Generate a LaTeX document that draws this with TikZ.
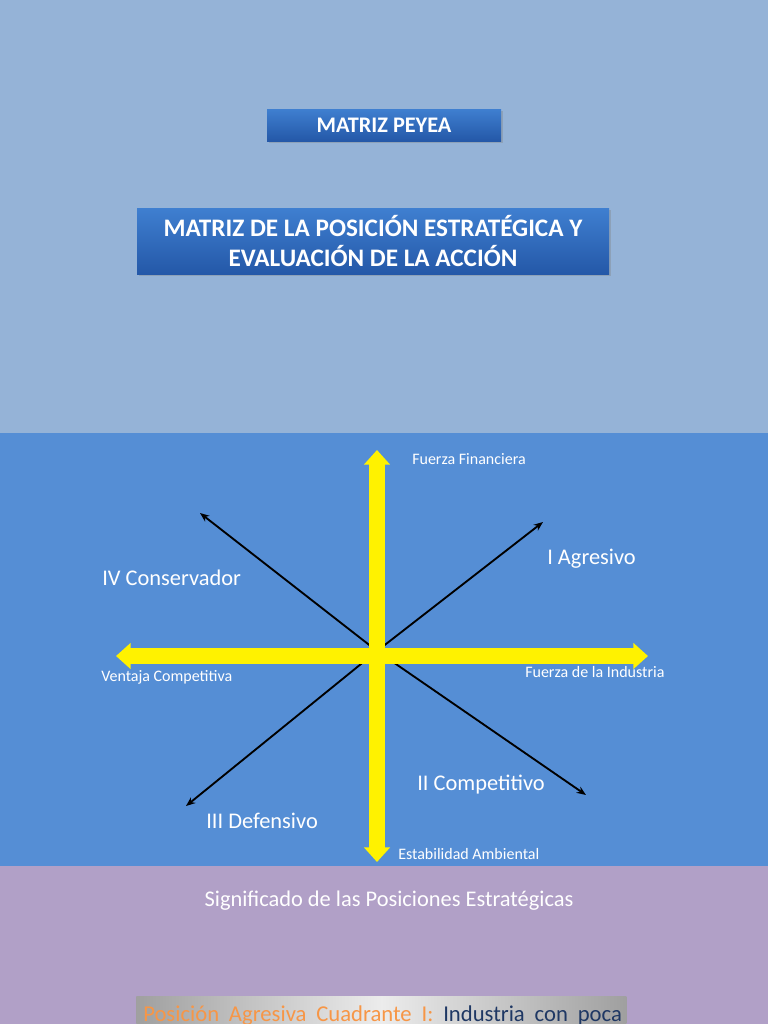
\documentclass[tikz,border=0pt]{standalone}
\usepackage{fontspec}
\setmainfont{Carlito}
\usetikzlibrary{positioning,arrows.meta,shadows}

\definecolor{skytop}{HTML}{95B3D7}
\definecolor{midblue}{HTML}{558ED5}
\definecolor{lilac}{HTML}{B1A0C7}
\definecolor{boxlight}{HTML}{3F7FD0}
\definecolor{boxdark}{HTML}{2458A8}
\definecolor{agrorange}{HTML}{F79646}
\definecolor{navytext}{HTML}{1F3864}

\begin{document}
\begin{tikzpicture}[x=0.75pt, y=-0.75pt]

% Styles
\tikzset{
    titlebox/.style={rectangle, top color=boxlight, bottom color=boxdark, draw=none,
        text=white, font=\bfseries, align=center,
        drop shadow={opacity=0.35, shadow xshift=1.5pt, shadow yshift=-1.5pt}},
    axislabel/.style={text=white, font=\fontsize{12}{14}\selectfont, inner sep=0pt, anchor=west},
    quadlabel/.style={text=white, font=\fontsize{16.8}{20}\selectfont, inner sep=0pt, anchor=west},
    bigaxis/.style={yellow, line width=11.5pt, {Triangle[length=11pt, width=19pt]}-{Triangle[length=11pt, width=19pt]}},
    diag/.style={black, line width=1.4pt, -{Stealth[length=7pt, width=5.5pt]}}
}

\clip (0,0) rectangle (768,1024);
\useasboundingbox (0,0) rectangle (768,1024);

% Backgrounds
\fill[skytop] (0,0) rectangle (768,433);
\fill[midblue] (0,433) rectangle (768,866);
\fill[lilac] (0,866) rectangle (768,1024);

% Titles
\node[titlebox, minimum width=234*0.75pt, minimum height=32*0.75pt,
      font=\bfseries\fontsize{16.7}{18}\selectfont] (peyea) at (384,125) {MATRIZ PEYEA};
\node[titlebox, minimum width=472*0.75pt, minimum height=66*0.75pt,
      font=\bfseries\fontsize{18.9}{22.5}\selectfont] (fullname) at (373,241)
      {MATRIZ DE LA POSICIÓN ESTRATÉGICA Y\\EVALUACIÓN DE LA ACCIÓN};

% Axes
\coordinate (o) at (377,651);
\coordinate (nw) at (200,513);
\coordinate (ne) at (543,522);
\coordinate (sw) at (186,806);
\coordinate (se) at (586,795);
\foreach \d in {nw,ne,sw,se} {
    \draw[diag] (o) -- (\d);
}
\coordinate (top) at (377,450);
\coordinate (bottom) at (377,862);
\coordinate (left) at (116,656);
\coordinate (right) at (648,656);
\draw[bigaxis] (bottom) -- (top);
\draw[bigaxis] (left) -- (right);
\fill[yellow] (o) circle (8);

% Axis labels
\node[axislabel] (ff) at (412,459) {Fuerza Financiera};
\node[axislabel] (fi) at (525,672) {Fuerza de la Industria};
\node[axislabel] (vc) at (101,677) {Ventaja Competitiva};
\node[axislabel] (ea) at (398,854) {Estabilidad Ambiental};

% Quadrants
\node[quadlabel] (q1) at (547,559) {I Agresivo};
\node[quadlabel] (q4) at (102,578) {IV Conservador};
\node[quadlabel] (q2) at (417,785) {II Competitivo};
\node[quadlabel] (q3) at (206,821) {III Defensivo};

% Meaning
\node[quadlabel, anchor=center] (sig) at (389,901) {Significado de las Posiciones Estratégicas};
\node[rectangle, left color=gray!75, right color=gray!75, middle color=gray!15,
      minimum width=490*0.75pt, minimum height=50*0.75pt, anchor=north west,
      inner sep=0pt] (agr) at (136,996) {};
\node[inner sep=0pt, anchor=base west, font=\fontsize{17}{20}\selectfont] (agrtext) at (143,1021)
    {\makebox[359pt][s]{\textcolor{agrorange}{Posición Agresiva Cuadrante I:} \textcolor{navytext}{Industria con poca}}};

\end{tikzpicture}
\end{document}
